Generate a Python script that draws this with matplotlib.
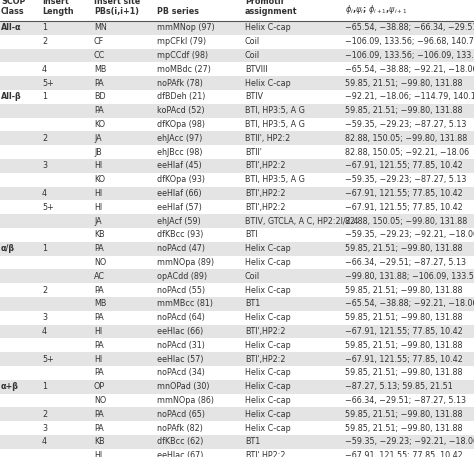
import matplotlib
matplotlib.use("Agg")
import matplotlib.pyplot as plt
from matplotlib.patches import Rectangle

scop = ["All-α","","","","","All-β","","","","","","","","","","","α/β","","","","","","","","","","α+β","","","","","",""]
length = ["1","2","","4","5+","1","","","2","","3","","4","5+","","","1","","","2","","3","4","","5+","","1","","2","3","4","","5+"]
site = ["MN","CF","CC","MB","PA","BD","PA","KO","JA","JB","HI","KO","HI","HI","JA","KB","PA","NO","AC","PA","MB","PA","HI","PA","HI","PA","OP","NO","PA","PA","KB","HI","HI"]
series = ["mmMNop (97)","mpCFkl (79)","mpCCdf (98)","moMBdc (27)","noPAfk (78)","dfBDeh (21)","koPAcd (52)","dfKOpa (98)","ehJAcc (97)","ehJBcc (98)","eeHIaf (45)","dfKOpa (93)","eeHIaf (66)","eeHIaf (57)","ehJAcf (59)","dfKBcc (93)",
          "noPAcd (47)","mmNOpa (89)","opACdd (89)","noPAcd (55)","mmMBcc (81)","noPAcd (64)","eeHIac (66)","noPAcd (31)","eeHIac (57)","noPAcd (34)",
          "mnOPad (30)","mmNOpa (86)","noPAcd (65)","noPAfk (82)","dfKBcc (62)","eeHIac (67)","eeHIac (52)"]
promotif = ["Helix C-cap","Coil","Coil","BTVIII","Helix C-cap","BTIV","BTI, HP3:5, A G","BTI, HP3:5, A G","BTII', HP2:2","BTII'","BTI',HP2:2","BTI, HP3:5, A G","BTI',HP2:2","BTI',HP2:2","BTIV, GTCLA, A C, HP2:2I/2:4","BTI",
            "Helix C-cap","Helix C-cap","Coil","Helix C-cap","BT1","Helix C-cap","BTI',HP2:2","Helix C-cap","BTI',HP2:2","Helix C-cap",
            "Helix C-cap","Helix C-cap","Helix C-cap","Helix C-cap","BT1","BTI',HP2:2","BTI',HP2:2"]
angles = ["−65.54, −38.88; −66.34, −29.51","−106.09, 133.56; −96.68, 140.72","−106.09, 133.56; −106.09, 133.56","−65.54, −38.88; −92.21, −18.06","59.85, 21.51; −99.80, 131.88",
          "−92.21, −18.06; −114.79, 140.11","59.85, 21.51; −99.80, 131.88","−59.35, −29.23; −87.27, 5.13","82.88, 150.05; −99.80, 131.88","82.88, 150.05; −92.21, −18.06",
          "−67.91, 121.55; 77.85, 10.42","−59.35, −29.23; −87.27, 5.13","−67.91, 121.55; 77.85, 10.42","−67.91, 121.55; 77.85, 10.42","82.88, 150.05; −99.80, 131.88","−59.35, −29.23; −92.21, −18.06",
          "59.85, 21.51; −99.80, 131.88","−66.34, −29.51; −87.27, 5.13","−99.80, 131.88; −106.09, 133.56","59.85, 21.51; −99.80, 131.88","−65.54, −38.88; −92.21, −18.06",
          "59.85, 21.51; −99.80, 131.88","−67.91, 121.55; 77.85, 10.42","59.85, 21.51; −99.80, 131.88","−67.91, 121.55; 77.85, 10.42","59.85, 21.51; −99.80, 131.88",
          "−87.27, 5.13; 59.85, 21.51","−66.34, −29.51; −87.27, 5.13","59.85, 21.51; −99.80, 131.88","59.85, 21.51; −99.80, 131.88","−59.35, −29.23; −92.21, −18.06",
          "−67.91, 121.55; 77.85, 10.42","−67.91, 121.55; 77.85, 10.42"]
headers = ["SCOP\nClass","Insert\nLength","Insert site\nPBs(i,i+1)","PB series","Promotif\nassignment","$\\phi_i$,$\\psi_i$; $\\phi_{i+1}$,$\\psi_{i+1}$"]

W, H = 474, 457
fig = plt.figure(figsize=(W/100, H/100), dpi=100)
ax = fig.add_axes([0, 0, 1, 1])
ax.set_xlim(0, W); ax.set_ylim(H, 0); ax.axis("off")

colx = [1, 42, 94, 157, 245, 345]
top = 21
rh = 13.8
fs = 5.8
tc = "#333333"
for i in range(len(site)):
    y = top + i * rh
    if i % 2 == 0:
        ax.add_patch(Rectangle((0, y), W, rh, color="#e4e4e4", lw=0))
    yc = y + rh / 2
    cols = [scop[i], length[i], site[i], series[i], promotif[i], angles[i]]
    for j, t in enumerate(cols):
        ax.text(colx[j], yc, t, fontsize=fs, va="center", ha="left", color=tc,
                fontweight="bold" if j == 0 else "normal")
ax.plot([0, W], [top, top], color="#555555", lw=0.8)
for j, h in enumerate(headers):
    ax.text(colx[j], 16, h, fontsize=fs, va="bottom", ha="left", color=tc, fontweight="bold", linespacing=1.1)
fig.savefig("out.png", dpi=100)
